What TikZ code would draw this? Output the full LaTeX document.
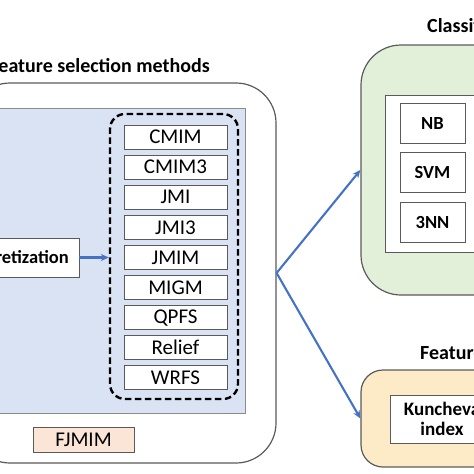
\documentclass[tikz,border=0pt]{standalone}
\usepackage{fontspec}
\setmainfont{Carlito}
\usetikzlibrary{arrows.meta}
\definecolor{bluefill}{HTML}{DAE3F3}
\definecolor{greenfill}{HTML}{E2F0D9}
\definecolor{peach}{HTML}{FBE5D6}
\definecolor{gold}{HTML}{FDEBC8}
\definecolor{arrowblue}{HTML}{4472C4}
\definecolor{edge}{HTML}{5A5A5A}
\tikzset{
  box/.style={draw=edge, line width=0.9pt, fill=white, inner sep=0pt},
  method/.style={box, minimum width=103pt, minimum height=24pt, font=\fontsize{21}{24}\selectfont},
  clsbox/.style={box, minimum width=65pt, minimum height=40pt, font=\fontsize{18.5}{21}\selectfont\bfseries},
  title/.style={font=\fontsize{20}{23}\selectfont\bfseries, inner sep=0pt},
  flow/.style={draw=arrowblue, line width=2.1pt, -{Stealth[length=8pt,width=7pt]}},
}
\begin{document}
\begin{tikzpicture}[x=1pt, y=-1pt]
\useasboundingbox (0,0) rectangle (474,474);
\clip (0,0) rectangle (474,474);
% feature selection methods
\node[title, anchor=base east] (fsmtitle) at (210,72) {Feature selection methods};
\node[draw=edge, line width=1.2pt, fill=white, rounded corners=40pt, minimum width=306pt, minimum height=380pt] (fsm) at (123,273) {};
\node[draw=edge!70, line width=0.8pt, fill=bluefill, minimum width=275pt, minimum height=305pt] (blue) at (107.5,260.5) {};
\node[draw=black, line width=2.4pt, dash pattern=on 6.5pt off 3.5pt, rounded corners=15pt, minimum width=128pt, minimum height=285pt] (grp) at (174,256.5) {};
\foreach \t [count=\i from 0] in {CMIM,CMIM3,JMI,JMI3,JMIM,MIGM,QPFS,Relief,WRFS}{
  \node[method] (m\i) at (175.5,{137+30.1*\i}) {\t};
}
\node[box, minimum width=109pt, minimum height=39pt] (disc) at (24.5,257.5) {};
\node[anchor=east, inner sep=0pt, font=\fontsize{18.5}{22}\selectfont\bfseries] (disctext) at (69,257.5) {Discretization};
\draw[flow] (disc.east) -- (grp.west |- disc.east);
\node[draw=edge, line width=0.9pt, fill=peach, minimum width=101pt, minimum height=25pt, font=\fontsize{21}{24}\selectfont] (fj) at (83.5,439.5) {FJMIM};
% classification
\node[title, anchor=base west] (clstitle) at (427,32) {Classification};
\node[draw=edge, line width=1.2pt, fill=greenfill, rounded corners=40pt, minimum width=159pt, minimum height=250pt] (cls) at (440.5,170) {};
\node[box, minimum width=135pt, minimum height=157pt] (clsin) at (452.5,173.5) {};
\node[clsbox] (nb) at (432.5,123) {NB};
\node[clsbox] (svm) at (432.5,172.5) {SVM};
\node[clsbox] (knn) at (432.5,222) {3NN};
% stability
\node[title, anchor=base west] (stabtitle) at (420,359) {Feature stability};
\node[draw=edge, line width=1.2pt, fill=gold, rounded corners=22pt, minimum width=159pt, minimum height=97pt] (stab) at (440.5,418.5) {};
\node[box, minimum width=104pt, minimum height=48pt, align=center, font=\fontsize{19}{20}\selectfont\bfseries] (kun) at (442,419) {Kuncheva\\index};
% arrows
\draw[flow] (fsm.east) -- (cls.west);
\draw[flow] (fsm.east) -- (stab.west);
\end{tikzpicture}
\end{document}
